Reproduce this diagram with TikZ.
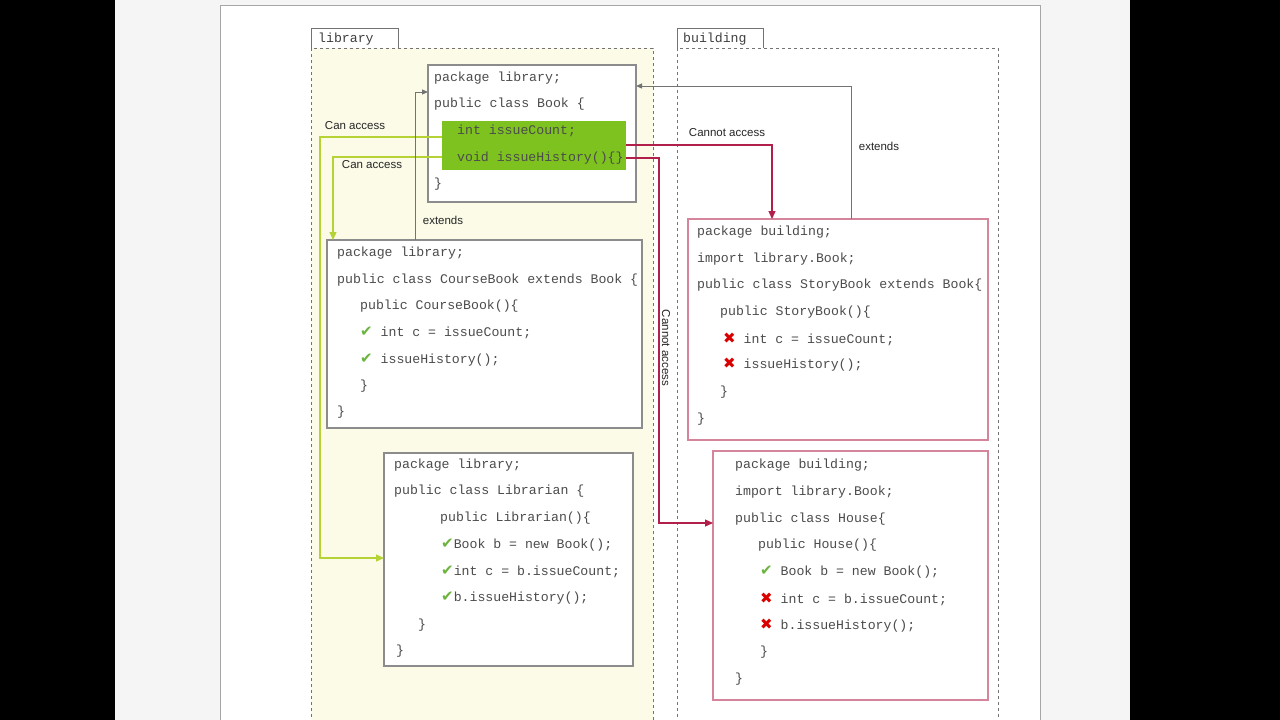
\documentclass[tikz,border=0pt]{standalone}
\usepackage{fontspec}
\setmainfont{Liberation Sans}
\newfontfamily\codefont{Liberation Mono}
\newfontfamily\symfont{DejaVu Sans}
\usetikzlibrary{arrows.meta}
\definecolor{okgreen}{HTML}{6DB33F}
\definecolor{hlgreen}{HTML}{7DC21E}
\definecolor{accgreen}{HTML}{B5D334}
\definecolor{nogo}{HTML}{B0204A}
\definecolor{pkgfill}{HTML}{FBFBE8}
\newcommand{\yes}{{\symfont\fontsize{15}{15}\selectfont\color{okgreen}\char"2714}}
\newcommand{\no}{{\symfont\fontsize{15}{15}\selectfont\color{red!85!black}\char"2716}}

\begin{document}
\begin{tikzpicture}[x=1pt,y=-1pt,
  code/.style={anchor=west,inner sep=0,font=\codefont\fontsize{13.2}{14}\selectfont,text=black!70},
  lbl/.style={inner sep=0,font=\fontsize{11.5}{12}\selectfont,text=black!85},
  cbox/.style={draw=black!45,line width=1.2pt,fill=white},
  rbox/.style={draw=nogo!55,line width=1.2pt,fill=white},
  pkg/.style={draw=black!55,dashed,line width=0.6pt},
  tab/.style={draw=black!55,line width=0.6pt},
  can/.style={accgreen,line width=1.2pt,-{Triangle[length=8pt,width=7pt]}},
  cannot/.style={nogo,line width=1.2pt,-{Triangle[length=8pt,width=7pt]}},
  ext/.style={black!55,line width=1pt,-{Triangle[length=6pt,width=5pt]}}]
\useasboundingbox (0,0) rectangle (1280,720);
\fill[black] (0,0) rectangle (1280,720);
\fill[black!4] (115,0) rectangle (1130,720);
\filldraw[fill=white,draw=black!35] (220,5) rectangle (1040,725);

% packages
\filldraw[pkg,fill=pkgfill] (311,48) rectangle (653,720);
\draw[tab] (311,48) |- (398,28) -- (398,48);
\node[code,text=black!75] (libname) at (318,39) {library};
\draw[pkg] (677,48) rectangle (998,720);
\draw[tab] (677,48) |- (763,28) -- (763,48);
\node[code,text=black!75] (bldname) at (683,39) {building};

% Book
\draw[cbox] (428,65) rectangle (636,202);
\fill[hlgreen] (442,121) rectangle (626,170);
\node[code] (b1) at (434,78) {package library;};
\node[code] (b2) at (434,104) {public class Book \{};
\node[code] (b3) at (457,131) {int issueCount;};
\node[code] (b4) at (457,158) {void issueHistory()\{\}};
\node[code] (b5) at (434,184) {\}};
\coordinate (hl1) at (442,137);
\coordinate (hl2) at (442,157);
\coordinate (hr1) at (626,145);
\coordinate (hr2) at (626,158);

% CourseBook
\draw[cbox] (327,240) rectangle (642,428);
\node[code] (c1) at (337,253) {package library;};
\node[code] (c2) at (337,280) {public class CourseBook extends Book \{};
\node[code] (c3) at (360,306) {public CourseBook()\{};
\node[code] (c4) at (360,333) {\yes\ int c = issueCount;};
\node[code] (c5) at (360,360) {\yes\ issueHistory();};
\node[code] (c6) at (360,386) {\}};
\node[code] (c7) at (337,412) {\}};

% Librarian
\draw[cbox] (384,453) rectangle (633,666);
\node[code] (l1) at (394,465) {package library;};
\node[code] (l2) at (394,491) {public class Librarian \{};
\node[code] (l3) at (440,518) {public Librarian()\{};
\node[code] (l4) at (441,545) {\yes Book b = new Book();};
\node[code] (l5) at (441,572) {\yes int c = b.issueCount;};
\node[code] (l6) at (441,598) {\yes b.issueHistory();};
\node[code] (l7) at (418,625) {\}};
\node[code] (l8) at (396,651) {\}};

% StoryBook
\draw[rbox] (688,219) rectangle (988,440);
\node[code] (s1) at (697,232) {package building;};
\node[code] (s2) at (697,259) {import library.Book;};
\node[code] (s3) at (697,285) {public class StoryBook extends Book\{};
\node[code] (s4) at (720,312) {public StoryBook()\{};
\node[code] (s5) at (723,339) {\no\ int c = issueCount;};
\node[code] (s6) at (723,365) {\no\ issueHistory();};
\node[code] (s7) at (720,392) {\}};
\node[code] (s8) at (697,419) {\}};

% House
\draw[rbox] (713,451) rectangle (988,700);
\node[code] (h1) at (735,465) {package building;};
\node[code] (h2) at (735,492) {import library.Book;};
\node[code] (h3) at (735,519) {public class House\{};
\node[code] (h4) at (758,545) {public House()\{};
\node[code] (h5) at (760,572) {\yes\ Book b = new Book();};
\node[code] (h6) at (760,599) {\no\ int c = b.issueCount;};
\node[code] (h7) at (760,626) {\no\ b.issueHistory();};
\node[code] (h8) at (760,652) {\}};
\node[code] (h9) at (735,679) {\}};

% connectors
\draw[can] (hl1) -| (320,558) -- (384,558);
\draw[can] (hl2) -| (333,240);
\node[lbl] (ca1) at (355,126) {Can access};
\node[lbl] (ca2) at (372,165) {Can access};
\draw[ext] (415,240) |- (428,92);
\node[lbl] (ex1) at (443,220) {extends};
\draw[ext] (851,219) |- (636,86);
\node[lbl] (ex2) at (879,146) {extends};
\draw[cannot] (hr1) -| (772,219);
\node[lbl] (na1) at (727,133) {Cannot access};
\draw[cannot] (hr2) -| (659,523) -- (713,523);
\node[lbl,rotate=-90] (na2) at (666,348) {Cannot access};
\end{tikzpicture}
\end{document}
